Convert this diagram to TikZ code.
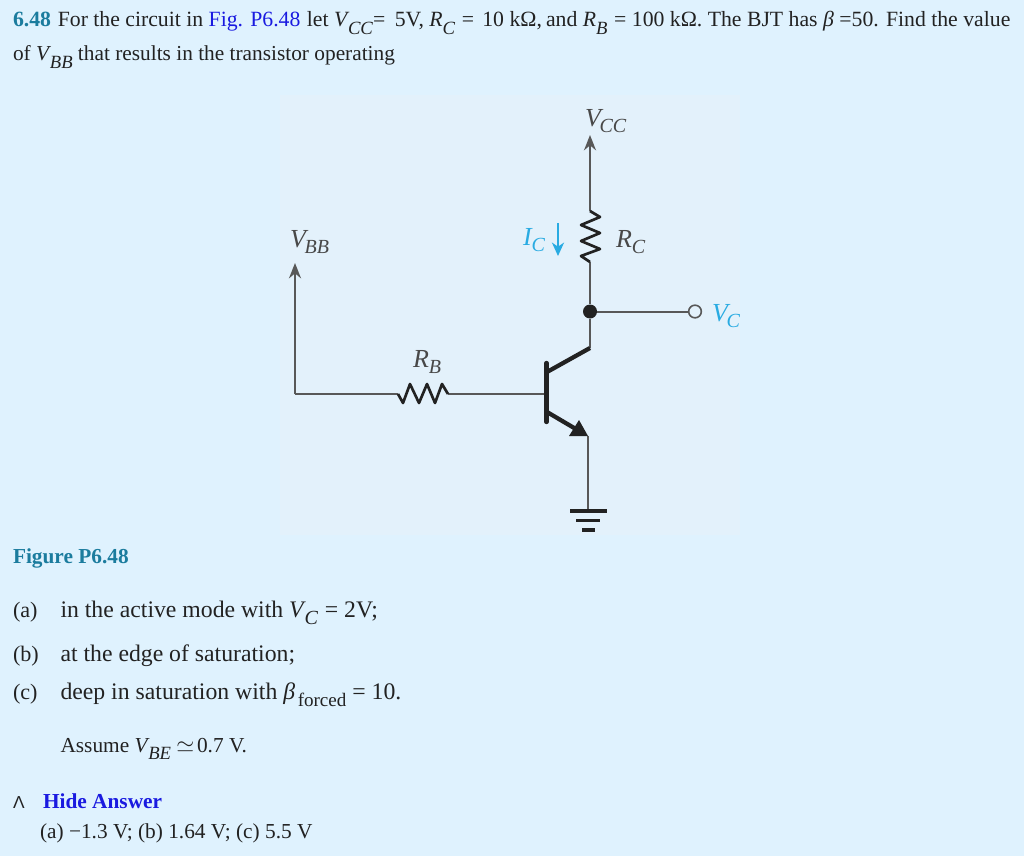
\documentclass[tikz,border=0pt]{standalone}
\usepackage{fontspec}
\setmainfont{Liberation Serif}
\newfontfamily\sansf{Liberation Sans}
\usetikzlibrary{arrows.meta}
\definecolor{page}{HTML}{DFF2FE}
\definecolor{panel}{HTML}{E3F1FB}
\definecolor{teal}{HTML}{1B7C9E}
\definecolor{linkblue}{HTML}{1A1AE0}
\definecolor{ink}{HTML}{222222}
\definecolor{cyanlab}{HTML}{29ABE2}
\definecolor{wirec}{HTML}{585858}
\definecolor{labc}{HTML}{484848}
\newcommand{\ssb}[1]{\raisebox{-0.34em}{\fontsize{14}{15}\selectfont\textit{#1}}}
\newcommand{\lsb}[1]{\raisebox{-0.26em}{\fontsize{15}{15}\selectfont\textit{#1}}}
\tikzset{
  x=0.75pt,y=-0.75pt,
  txt/.style={anchor=base west,inner sep=0pt,outer sep=0pt,text=ink,font=\fontsize{16}{18}\selectfont},
  toptxt/.style={txt,font=\fontsize{16.3}{18}\selectfont},
  listtxt/.style={txt,font=\fontsize{17.8}{20}\selectfont},
  marktxt/.style={txt,font=\fontsize{16.6}{20}\selectfont},
  lab/.style={anchor=base west,inner sep=0pt,outer sep=0pt,text=labc,font=\fontsize{19.5}{22}\selectfont\itshape},
  cyanl/.style={lab,text=cyanlab},
  wire/.style={draw=wirec,line width=1.5pt,line join=miter},
  zig/.style={draw=ink,line width=2pt,line join=round},
  thick bar/.style={draw=ink,line width=3.2pt},
  gnd/.style={draw=ink,line width=2.8pt},
  tip/.style={-{Stealth[length=11.5pt,width=9pt]}},
  dot/.style={circle,fill=ink,draw=none,minimum size=10.5pt,inner sep=0pt},
  term/.style={circle,draw=wirec,line width=1.2pt,fill=panel,minimum size=9.5pt,inner sep=0pt},
}
\begin{document}
\begin{tikzpicture}
\useasboundingbox (0,0) rectangle (1024,856);
\fill[page] (0,0) rectangle (1024,856);
\fill[panel] (280,95) rectangle (740,535);
% text
\node[toptxt] (l1) at (13,27) {\textbf{\textcolor{teal}{6.48}}\kern1pt{} For the circuit in \textcolor{linkblue}{Fig. P6.48}\kern0.7pt{} let \textit{V}\kern-1pt\ssb{CC}=\kern3pt{} 5V, \textit{R}\ssb{C}\kern5pt=\kern2pt{} 10 kΩ,\kern-1pt{} and \textit{R}\ssb{B}\kern5pt= 100 kΩ. The BJT has \textit{β} =50. Find the value};
\node[txt] (l2) at (13,61) {of \textit{V}\kern-1pt\ssb{BB} that results in the transistor operating};
\node[txt,text=teal] (fig) at (13,563) {\textbf{Figure P6.48}};
\node[marktxt] (a1) at (13,617) {(a)};
\node[listtxt] (a2) at (60.5,617) {in the active mode with \textit{V}\kern-1pt\raisebox{-0.3em}{\fontsize{15}{15}\selectfont\textit{C}}\kern5pt= 2V;};
\node[marktxt] (b1) at (13,661) {(b)};
\node[listtxt] (b2) at (60.5,661) {at the edge of saturation;};
\node[marktxt] (c1) at (13,699) {(c)};
\node[listtxt] (c2) at (60.5,699) {deep in saturation with \textit{β}\kern2pt\raisebox{-0.3em}{\fontsize{14.3}{16}\selectfont forced} = 10.};
\node[txt] (as) at (60.5,752) {Assume \textit{V}\kern-1pt\ssb{BE} $\simeq$\kern-2pt\ 0.7 V.};
\node[txt,font=\sansf\fontsize{13}{14}\selectfont] (car) at (13,808) {Λ};
\node[txt,text=linkblue] (hide) at (43,808) {\textbf{Hide Answer}};
\node[txt] (ans) at (40,838) {(a) −1.3 V; (b) 1.64 V; (c) 5.5 V};
% circuit points
\coordinate (vcc) at (590,135);
\coordinate (rct) at (590,211);
\coordinate (rcb) at (590,262);
\node[dot] (j) at (590,311.5) {};
\node[term] (vco) at (695,311.5) {};
\coordinate (ck) at (590,348);
\coordinate (vbb) at (295,263);
\coordinate (cor) at (295,394);
\coordinate (rbl) at (398,394);
\coordinate (rbr) at (448,394);
\coordinate (bs) at (546,394);
\coordinate (bart) at (546.5,363);
\coordinate (barb) at (546.5,422);
\coordinate (cb) at (547,372);
\coordinate (eb) at (547,412);
\coordinate (et) at (588,436);
\coordinate (gt) at (588,511);
% wires
\draw[wire,tip] (rct) -- (vcc);
\draw[wire] (rcb) -- (j);
\draw[wire] (j) -- (vco);
\draw[wire] (j) -- (ck);
\draw[wire,tip] (cor) -- (vbb);
\draw[wire] (cor) -- (rbl);
\draw[wire] (rbr) -- (bs);
\draw[wire] (et) -- (gt);
% resistors
\draw[zig] (rct) -- ++(10,6) -- ++(-19,8) -- ++(19,8) -- ++(-19,8) -- ++(19,8) -- ++(-19,7) -- (rcb);
\draw[zig] (rbl) -- ++(5,9) -- ++(7,-19) -- ++(9,19) -- ++(8,-19) -- ++(8,19) -- ++(7,-19) -- (rbr);
% transistor
\draw[thick bar,line cap=round] (bart) -- (barb);
\draw[thick bar] (cb) -- (ck);
\draw[thick bar] (eb) -- (575,428.5);
\fill[ink] (et) -- (569,436) -- (579,420) -- cycle;
% ground
\draw[gnd] (570,511) -- (607,511);
\draw[gnd] (576,520.5) -- (600,520.5);
\draw[gnd] (582,530) -- (595,530);
% labels
\node[lab] (lvcc) at (585,126) {V\kern-1pt\lsb{CC}};
\node[lab] (lrc) at (616,247) {R\lsb{C}};
\node[lab] (lvbb) at (290,247) {V\kern-1pt\lsb{BB}};
\node[lab] (lrb) at (413,367) {R\lsb{B}};
\node[cyanl] (lic) at (523,245) {I\lsb{C}};
\node[cyanl] (lvc) at (712,321) {V\kern-1pt\lsb{C}};
\coordinate (ia) at (558,223);
\coordinate (ib) at (558,256);
\draw[draw=cyanlab,line width=2pt,-{Stealth[length=10pt,width=9pt,inset=3pt]}] (ia) -- (ib);
\end{tikzpicture}
\end{document}
